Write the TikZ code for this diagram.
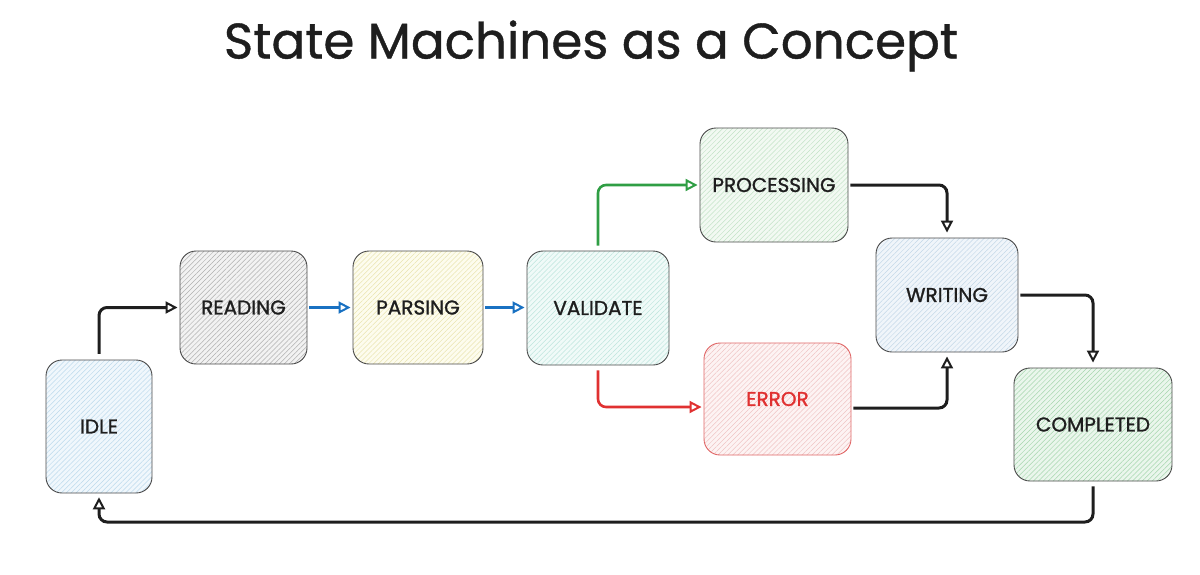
\documentclass[tikz,border=0pt]{standalone}
\usepackage{fontspec}
\setmainfont{Poppins}
\newfontfamily\lblfont[FakeBold=1.2]{Poppins}
\newfontfamily\ttlfont[FakeBold=0.8]{Poppins}
\usetikzlibrary{arrows.meta,patterns.meta}
\definecolor{bordergrey}{HTML}{4A4A4A}
\definecolor{inkblack}{HTML}{1E1E1E}
\definecolor{arrblue}{HTML}{1971C2}
\definecolor{arrgreen}{HTML}{2F9E44}
\definecolor{arrred}{HTML}{E03131}
\definecolor{errborder}{HTML}{E06666}
\definecolor{idlefill}{HTML}{F0F7FC}\definecolor{idlehatch}{HTML}{BCD9EC}
\definecolor{readfill}{HTML}{F2F2F2}\definecolor{readhatch}{HTML}{B0B0B0}
\definecolor{parsefill}{HTML}{FDFCEE}\definecolor{parsehatch}{HTML}{EAE4B0}
\definecolor{valfill}{HTML}{F0FAF8}\definecolor{valhatch}{HTML}{BDE5DD}
\definecolor{procfill}{HTML}{F2F9F2}\definecolor{prochatch}{HTML}{C3E3C7}
\definecolor{errfill}{HTML}{FDF3F3}\definecolor{errhatch}{HTML}{F0C4C4}
\definecolor{writefill}{HTML}{F0F5FA}\definecolor{writehatch}{HTML}{C4D8E8}
\definecolor{compfill}{HTML}{EAF6EC}\definecolor{comphatch}{HTML}{A6D6AE}
\tikzset{
  stbox/.style n args={2}{draw=bordergrey, line width=0.9pt, rounded corners=16pt,
    preaction={fill=#1}, pattern={Lines[angle=45,distance=3.5pt,line width=0.5pt]},
    pattern color=#2, inner sep=0pt, text=inkblack,
    font=\lblfont\fontsize{20}{24}\selectfont},
  conn/.style={draw=#1, line width=3pt, rounded corners=8pt,
    -{Triangle[open, length=12pt, width=12pt, line width=2pt]}},
  conn/.default=inkblack,
  cconn/.style={conn=#1, line width=2.6pt}
}
\begin{document}
\begin{tikzpicture}[x=1pt,y=-1pt]
\useasboundingbox (0,0) rectangle (1200,574);
\node[text=inkblack, font=\ttlfont\fontsize{50}{56}\selectfont] (title) at (591,46) {State Machines as a Concept};

\node[stbox={idlefill}{idlehatch}, minimum width=106pt, minimum height=133pt] (idle) at (99,426.5) {IDLE};
\node[stbox={readfill}{readhatch}, minimum width=127pt, minimum height=113pt] (reading) at (243.5,307.5) {READING};
\node[stbox={parsefill}{parsehatch}, minimum width=130pt, minimum height=113pt] (parsing) at (418,307.5) {PARSING};
\node[stbox={valfill}{valhatch}, minimum width=142pt, minimum height=114pt] (validate) at (598,308) {VALIDATE};
\node[stbox={procfill}{prochatch}, minimum width=148pt, minimum height=114pt] (processing) at (774,185) {PROCESSING};
\node[stbox={errfill}{errhatch}, draw=errborder, text=arrred, minimum width=147pt, minimum height=112pt] (error) at (777.5,399) {ERROR};
\node[stbox={writefill}{writehatch}, minimum width=142pt, minimum height=114pt] (writing) at (947,295) {WRITING};
\node[stbox={compfill}{comphatch}, minimum width=158pt, minimum height=113pt] (completed) at (1093,424.5) {COMPLETED};

\coordinate (loopy) at (0,522);

\draw[conn] ([yshift=6pt]idle.north) |- ([xshift=-2pt]reading.west);
\draw[cconn=arrblue] ([xshift=2pt]reading.east) -- ([xshift=-2pt]parsing.west);
\draw[cconn=arrblue] ([xshift=2pt]parsing.east) -- ([xshift=-2pt]parsing.east -| validate.west);
\draw[cconn=arrgreen] ([yshift=5pt]validate.north) |- ([xshift=-2pt]processing.west);
\draw[cconn=arrred] ([yshift=-5pt]validate.south) |- ([xshift=-2pt,yshift=-8pt]error.west);
\draw[conn] ([xshift=2pt]processing.east) -| ([yshift=5pt]writing.north);
\draw[conn] ([xshift=2pt,yshift=-9pt]error.east) -| ([yshift=-4pt]writing.south);
\draw[conn] ([xshift=2pt]writing.east) -| ([yshift=5pt]completed.north);
\draw[conn] ([yshift=-5pt]completed.south) -- (completed.south |- loopy) -- (idle.south |- loopy) -- ([yshift=-4pt]idle.south);
\end{tikzpicture}
\end{document}
